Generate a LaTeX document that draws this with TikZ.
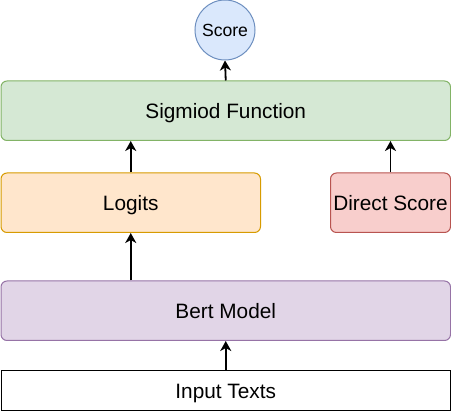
\documentclass[tikz,border=0pt]{standalone}
\usepackage{fontspec}
\setmainfont{Liberation Sans}
\usetikzlibrary{arrows.meta}
\definecolor{bluef}{HTML}{DAE8FC}\definecolor{blued}{HTML}{6C8EBF}
\definecolor{greenf}{HTML}{D5E8D4}\definecolor{greend}{HTML}{82B366}
\definecolor{orangef}{HTML}{FFE6CC}\definecolor{oranged}{HTML}{D79B00}
\definecolor{redf}{HTML}{F8CECC}\definecolor{redd}{HTML}{B85450}
\definecolor{purplef}{HTML}{E1D5E7}\definecolor{purpled}{HTML}{9673A6}
\begin{document}
\begin{tikzpicture}[x=1pt,y=-1pt,
  box/.style={rectangle, rounded corners=6pt, line width=1pt, inner sep=0pt, anchor=north west, text height=14.9pt, text depth=0pt, font=\fontsize{20.8}{24}\selectfont},
  conn/.style={line width=1.8pt, -{Stealth[length=10pt,width=11pt,inset=3pt]}}]
\useasboundingbox (0,0) rectangle (451,411);
\node[circle, draw=blued, fill=bluef, line width=1pt, minimum size=60pt, inner sep=0pt, text height=12.6pt, text depth=0pt, font=\fontsize{17.6}{20}\selectfont] (score) at (225,30) {Score};
\node[box, draw=greend, fill=greenf, minimum width=449.5pt, minimum height=59.5pt] (sig) at (0.5,80.5) {Sigmiod Function};
\node[box, draw=oranged, fill=orangef, minimum width=259.5pt, minimum height=59.5pt] (logits) at (0.5,172.5) {Logits};
\node[box, draw=redd, fill=redf, minimum width=120pt, minimum height=59.5pt] (direct) at (330,172.5) {Direct Score};
\node[box, draw=purpled, fill=purplef, minimum width=449.5pt, minimum height=59.5pt] (bert) at (0.5,280.5) {Bert Model};
\node[box, rounded corners=0pt, draw=black, fill=white, minimum width=449.5pt, minimum height=39.5pt] (input) at (0.5,370.5) {Input Texts};
\draw[conn] (sig.north) -- (score.south);
\draw[conn] (logits.north) -- (logits.north |- sig.south);
\draw[conn] (direct.north) -- (direct.north |- sig.south);
\draw[conn] (logits.south |- bert.north) -- (logits.south);
\draw[conn] (input.north) -- (bert.south);
\end{tikzpicture}
\end{document}
